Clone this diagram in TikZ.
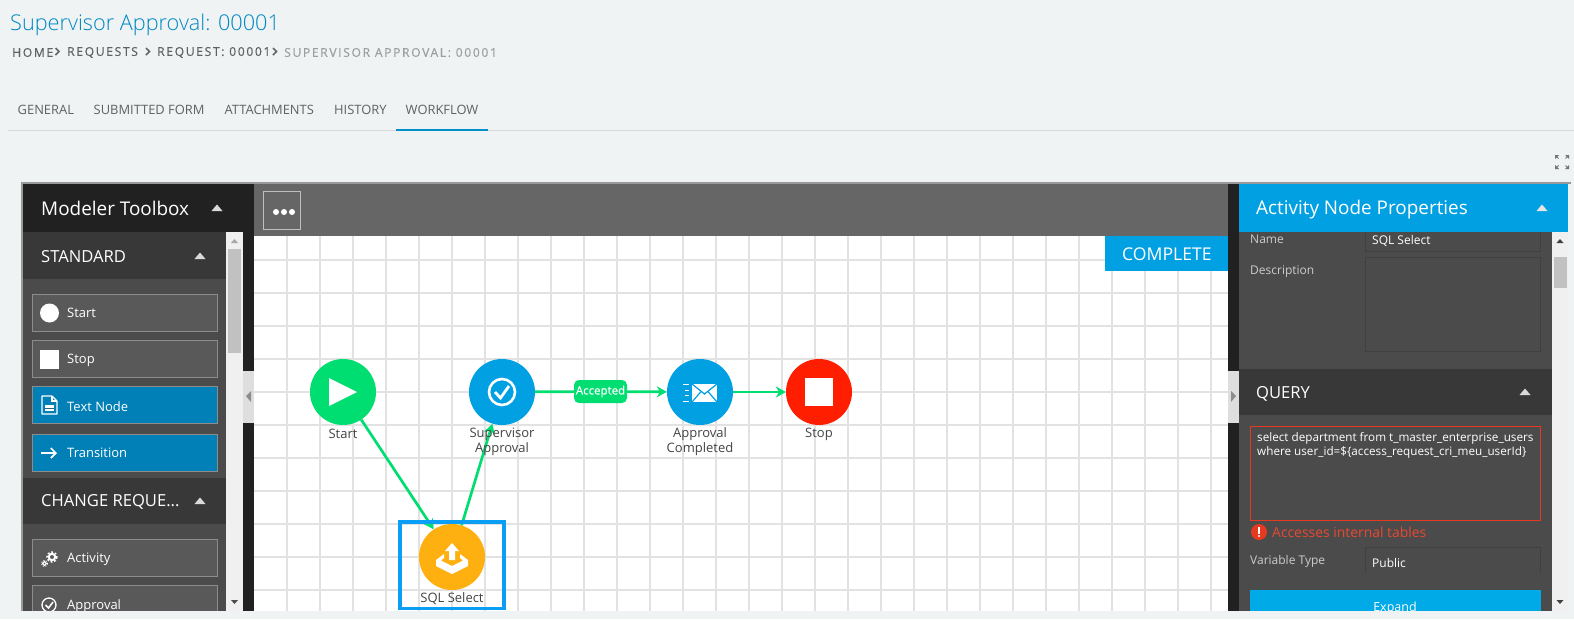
\documentclass[tikz,border=0pt]{standalone}
\usepackage{fontspec}
\setmainfont{Open Sans}
\newfontfamily\lightf{Open Sans Light}
\newfontfamily\spaced[LetterSpace=13,FakeBold=0.25]{Open Sans}
\usetikzlibrary{arrows.meta}
\definecolor{pagebg}{HTML}{EFF3F4}
\definecolor{darkp}{HTML}{212121}
\definecolor{bandc}{HTML}{383838}
\definecolor{bodyc}{HTML}{4B4B4B}
\definecolor{toolc}{HTML}{666666}
\definecolor{btnc}{HTML}{595959}
\definecolor{btnl}{HTML}{8C8C8C}
\definecolor{btnb}{HTML}{0080B6}
\definecolor{skyc}{HTML}{00A0E3}
\definecolor{greenc}{HTML}{00DE72}
\definecolor{redc}{HTML}{FF1E00}
\definecolor{amberc}{HTML}{FFB011}
\definecolor{selc}{HTML}{0A9FF5}
\definecolor{gridc}{HTML}{E2E2E2}
\definecolor{barc}{HTML}{F0F0F0}
\definecolor{thumbc}{HTML}{C1C1C1}
\definecolor{labelc}{HTML}{444444}
\definecolor{errc}{HTML}{E7391F}
\tikzset{
  txt/.style={inner sep=0pt,anchor=west,text=white},
  btnbox/.style={draw=btnl,fill=btnc,line width=.8pt},
  btnblue/.style={draw=btnl,fill=btnb,line width=.8pt},
  btntxt/.style={txt,font=\fontsize{13}{15}\selectfont},
  h1txt/.style={txt,font=\fontsize{18.9}{24}\selectfont},
  h2txt/.style={txt,font=\fontsize{16.6}{20}\selectfont},
  ptxt/.style={txt,text=white!80!black,font=\fontsize{12}{14}\selectfont},
  tabtxt/.style={txt,text=black!62,font=\fontsize{12.9}{15}\selectfont},
  crumb/.style={txt,text=black!62,font=\spaced\fontsize{12.2}{14}\selectfont},
  flownode/.style={circle,minimum size=66pt,inner sep=0pt},
  flowlabel/.style={inner sep=0pt,text=labelc,align=center,font=\fontsize{13}{15}\selectfont},
  flow/.style={draw=greenc,line width=2.7pt},
  flowarrow/.style={flow,-{Stealth[length=10pt,width=11pt]}},
  fieldline/.style={draw=black!75,line width=.8pt},
}
\newcommand{\uptri}[3]{\fill[#3] (#1-5.5,#2+3) -- (#1,#2-3.5) -- (#1+5.5,#2+3) -- cycle;}
\begin{document}
\begin{tikzpicture}[x=1pt,y=-1pt]
\useasboundingbox (0,0) rectangle (1574,619);
\fill[pagebg] (0,0) rectangle (1574,619);
% header
\node[txt,text=skyc!85!black,font=\lightf\fontsize{21.7}{25}\selectfont] (title) at (10,24.5) {Supervisor Approval: 00001};
\node[crumb] (c1) at (12,52.5) {HOME};
\node[crumb] (c2) at (67,52.5) {REQUESTS};
\node[crumb] (c3) at (157,52.5) {REQUEST: 00001};
\node[crumb,text=black!38] (c4) at (284,52.5) {SUPERVISOR APPROVAL: 00001};
\foreach \x in {55.5,146,273}{\draw[black!60,line width=1.5pt] (\x,48) -- (\x+3.5,51.5) -- (\x,55);}
\node[tabtxt] (t1) at (17.5,109.5) {GENERAL};
\node[tabtxt] (t2) at (93.5,109.5) {SUBMITTED FORM};
\node[tabtxt] (t3) at (224.5,109.5) {ATTACHMENTS};
\node[tabtxt] (t4) at (334,109.5) {HISTORY};
\node[tabtxt] (t5) at (405.5,109.5) {WORKFLOW};
\draw[black!15,line width=1pt] (8,130.5) -- (1574,130.5);
\fill[skyc!90!black] (396,128.5) rectangle (488,130.5);
% expand icon
\foreach \sx/\sy in {1/1,-1/1,1/-1,-1/-1}{
  \fill[black!55] (1562+\sx*7,162+\sy*7) -- (1562+\sx*3,162+\sy*7) -- (1562+\sx*7,162+\sy*3) -- cycle;
  \draw[black!55,line width=1pt] (1562+\sx*3.5,162+\sy*3.5) -- (1562+\sx*6,162+\sy*6);
}
% frame
\fill[black!40] (21,182) rectangle (1571,184);
\fill[black!40] (21,182) rectangle (23,611);
% canvas
\fill[white] (254,236) rectangle (1228,611);
\begin{scope}
\clip (254,236) rectangle (1228,611);
\foreach \x in {287,320,...,1212}{\draw[gridc,line width=1.3pt] (\x,236) -- (\x,611);}
\foreach \y in {260,293,...,590}{\draw[gridc,line width=1.3pt] (254,\y) -- (1228,\y);}
\end{scope}
\fill[toolc] (254,184) rectangle (1228,236);
\draw[black!25,line width=.8pt,fill=toolc] (263,191) rectangle (300,229);
\foreach \x in {276,284,292}{\fill[white] (\x,212) circle (3);}
\fill[skyc] (1105,236) rectangle (1228,271);
\node[txt,font=\fontsize{17.6}{20}\selectfont] (complete) at (1122,254.5) {COMPLETE};
% left panel
\fill[darkp] (23,184) rectangle (254,611);
\node[h1txt] (mt) at (41,208.5) {Modeler Toolbox};
\uptri{217}{208}{white!85!black}
\fill[bandc] (23,232) rectangle (226,279);
\fill[bodyc] (23,279) rectangle (226,478);
\fill[bandc] (23,478) rectangle (226,524);
\fill[bodyc] (23,524) rectangle (226,611);
\node[h2txt] (std) at (41,256.5) {STANDARD};
\uptri{200}{256}{white!85!black}
\node[h2txt] (chg) at (41,502) {CHANGE REQUE...};
\uptri{200}{501}{white!85!black}
\fill[barc] (226,232) rectangle (243,611);
\fill[thumbc] (228,249) rectangle (241,353);
\fill[black!35] (231,243) -- (234.5,239) -- (238,243) -- cycle;
\fill[black!70] (231,600) -- (234.5,604) -- (238,600) -- cycle;
\fill[black!13] (243,371) rectangle (254,423);
\fill[black!45] (251,391) -- (246,396) -- (251,402) -- cycle;
% buttons
\draw[btnbox] (32.5,294.5) rectangle (217.5,331);
\draw[btnbox] (32.5,340.5) rectangle (217.5,377.5);
\draw[btnblue] (32.5,386.5) rectangle (217.5,423.5);
\draw[btnblue] (32.5,434.5) rectangle (217.5,471);
\draw[btnbox] (32.5,539.5) rectangle (217.5,576.5);
\draw[btnbox] (32.5,585.5) rectangle (217.5,612);
\fill[white] (49.5,313) circle (9.5);
\fill[white] (40,350) rectangle (59,368.5);
\draw[white,line width=1.2pt,line join=round] (42,396) -- (52,396) -- (57,401) -- (57,414) -- (42,414) -- cycle;
\draw[white,line width=1.2pt] (52,396) -- (52,401) -- (57,401);
\fill[white] (45,405) rectangle (54,411);
\draw[bodyc!50!btnb,line width=.8pt] (45,408) -- (54,408);
\draw[white,line width=1.6pt,-{Straight Barb[length=5pt,width=10pt]}] (41,453) -- (57,453);
\draw[white,line width=2pt] (52,557) circle (3.2);
\draw[white,line width=1.5pt,dash pattern=on 1.8pt off 1.9pt] (52,557) circle (5);
\draw[white,line width=1.1pt] (44.5,563.5) circle (1.8);
\draw[white,line width=.9pt,dash pattern=on 1.2pt off 1.3pt] (44.5,563.5) circle (3);
\draw[white,line width=1.3pt] (49,605) circle (7);
\draw[white,line width=1.5pt] (45.5,605) -- (48.5,608) -- (53,602);
\node[btntxt] (b1) at (67,312.5) {Start};
\node[btntxt] (b2) at (67,360) {Stop};
\node[btntxt] (b3) at (67,406.5) {Text Node};
\node[btntxt] (b4) at (67,453) {Transition};
\node[btntxt] (b5) at (67,559) {Activity};
\node[btntxt] (b6) at (67,606) {Approval};
% diagram
\node[flownode,fill=greenc] (start) at (343,392) {};
\node[flownode,fill=skyc] (sup) at (502,392) {};
\node[flownode,fill=skyc] (appr) at (700,392) {};
\node[flownode,fill=redc] (stop) at (819,392) {};
\node[flownode,fill=amberc] (sql) at (452,557) {};
\draw[flowarrow] (start) -- (sql);
\draw[flowarrow] (sql) -- (sup);
\node[fill=greenc,rounded corners=5pt,minimum width=53pt,minimum height=23pt,inner sep=0pt,text=white,font=\fontsize{11.5}{13}\selectfont] (acc) at (600.5,391.5) {\addfontfeature{FakeBold=0.4}\raisebox{-1pt}{Accepted}};
\draw[flow] (sup) -- (acc);
\draw[flowarrow] (acc) -- (appr);
\draw[flowarrow] (appr) -- (stop);
\node[flowlabel] (l1) at (343,434) {Start};
\node[flowlabel] (l2) at (502,441.8) {Supervisor\\Approval};
\node[flowlabel] (l3) at (700,441.8) {Approval\\Completed};
\node[flowlabel] (l4) at (819,434) {Stop};
\node[flowlabel] (l5) at (452,599) {SQL Select};
\draw[selc,line width=3.2pt] (400,522) rectangle (504,608.5);
% node icons
\fill[white] (329,378) -- (329,406) -- (357,392) -- cycle;
\fill[white] (805,378) rectangle (833,406);
\draw[white,line width=2.6pt] (502,392) circle (13);
\draw[white,line width=2.8pt] (495,392) -- (500.5,398) -- (509,386);
\fill[white] (692,384) rectangle (717,402);
\draw[skyc,line width=1.2pt] (692,384) -- (704.5,394) -- (717,384);
\draw[skyc,line width=1.2pt] (692,402) -- (701,391.5);
\draw[skyc,line width=1.2pt] (717,402) -- (708,391.5);
\draw[white,line width=1pt] (683,384.5) -- (689,384.5) (685,390) -- (689,390) (685,395.5) -- (689,395.5) (683,401) -- (689,401);
\fill[white] (452,543) -- (459,551) -- (455,551) -- (455,560) -- (449,560) -- (449,551) -- (445,551) -- cycle;
\fill[white] (444,554) -- (436,560) -- (436,566) -- (452,574) -- (468,566) -- (468,560) -- (460,554) -- (460,558) -- (463,560.5) -- (452,566) -- (441,560.5) -- (444,558) -- cycle;
% right panel
\fill[darkp] (1228,184) rectangle (1239,611);
\fill[bodyc] (1239,232) rectangle (1552,611);
\fill[black!13] (1228,371) rectangle (1239,423);
\fill[black!45] (1231,391) -- (1236,396) -- (1231,402) -- cycle;
\draw[fieldline] (1365.5,225) rectangle (1540.5,251);
\draw[fieldline] (1365.5,257.5) rectangle (1540.5,351);
\node[ptxt] (p1) at (1250,239) {Name};
\node[ptxt] (p2) at (1250,271.5) {Description};
\node[ptxt,text=white] (p3) at (1372,241) {SQL Select};
\fill[skyc] (1239,184) rectangle (1568,232);
\node[h1txt] (anp) at (1256,209.5) {Activity Node Properties};
\uptri{1542}{208}{white!90!black}
\fill[bandc] (1239,369) rectangle (1552,415);
\node[h2txt] (q) at (1256,394) {QUERY};
\uptri{1525}{392}{white!85!black}
\draw[errc,line width=.9pt] (1250.5,426.5) rectangle (1540.5,520);
\node[txt,align=left,font=\fontsize{11.7}{14}\selectfont] (sqltxt) at (1257,445.5) {select department from t\_master\_enterprise\_users\\where user\_id=\$\{access\_request\_cri\_meu\_userId\}};
\fill[errc] (1259,532) circle (8);
\fill[white] (1258,526.5) rectangle (1260,533.5);
\fill[white] (1259,536) circle (1.2);
\node[txt,text=errc!92!white,font=\fontsize{13.9}{16}\selectfont] (err) at (1272,532.5) {Accesses internal tables};
\node[ptxt] (p4) at (1250,561.5) {Variable Type};
\draw[fieldline] (1365.5,573) -- (1365.5,547.5) -- (1540.5,547.5) -- (1540.5,573);
\node[ptxt,text=white] (p5) at (1372,563) {Public};
\fill[skyc!90!cyan] (1250,590) rectangle (1541,612);
\node[txt,anchor=center,font=\fontsize{12.5}{14}\selectfont] (exp) at (1395,608.5) {Expand};
\fill[barc] (1552,232) rectangle (1568,611);
\fill[thumbc] (1554,257) rectangle (1567,288);
\fill[black!75] (1556.5,243) -- (1560,239) -- (1563.5,243) -- cycle;
\fill[black!75] (1556.5,600) -- (1560,604) -- (1563.5,600) -- cycle;
% bottom page band
\fill[pagebg] (0,611) rectangle (1574,619);
\end{tikzpicture}
\end{document}
